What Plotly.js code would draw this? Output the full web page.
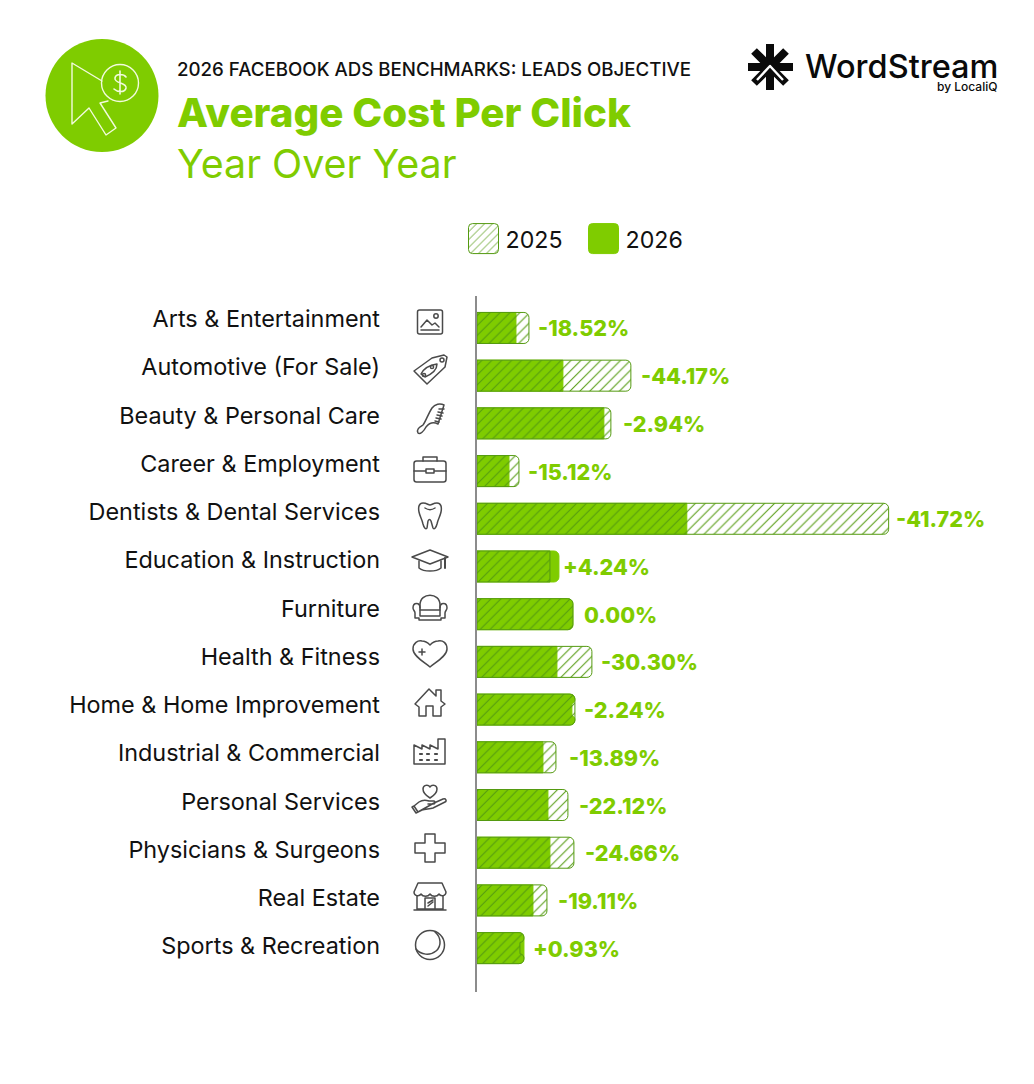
<!DOCTYPE html>
<html><head><meta charset="utf-8">
<script src="https://cdn.plot.ly/plotly-3.0.1.min.js"></script>
<style>html,body{margin:0;padding:0;background:#fff}#wrap{position:relative;width:1034px;height:1084px}#chart,#deco{position:absolute;left:0;top:0}#deco{pointer-events:none}</style>
</head><body><div id="wrap"><div id="chart"></div>
<svg id="deco" width="1034" height="1084" viewBox="0 0 1034 1084" fill="none" stroke="#4a4a4a" stroke-width="1.5" stroke-linejoin="round" stroke-linecap="round">
<ellipse cx="102" cy="95.5" rx="56.5" ry="56.5" fill="#7fcc00" stroke="none"/>
<g stroke="#f2fbdc" stroke-width="1.4"><path d="M102 81L72 63V124L89 108L106 135L116 128L100 103L108 101"/><circle cx="120" cy="83" r="18.5"/><path d="M126 77c-2-3-10-4-11 1c-1 6 12 4 11 10c-1 5-9 4-12 1M120 71V94" stroke-width="1.6"/></g>
<g transform="translate(430,322)"><rect x="-12.5" y="-12" width="25" height="24" rx="2"/><path d="M-9 5L-3 -2L2 3L5 1L9 5M-9 8H9"/><circle cx="6" cy="-6" r="2.2"/></g>
<g transform="translate(430,369)"><path d="M-16 2L2 -11L14 -14L17 -12L15 -2L-3 15Z" /><circle cx="12" cy="-9" r="2"/><path d="M-9 5C-6 -1 0 -4 7 -5C7 0 2 5 -5 8Z"/><circle cx="-6" cy="6" r="1.6"/><circle cx="2" cy="-2" r="1.6"/></g>
<g transform="translate(430,418)"><path d="M-12 15C-14 11 -10 9 -7 7C-4 3 -2 -4 2 -10C5 -14 10 -15 14 -13L8 6C4 4 0 4 -4 9C-6 13 -10 17 -12 15Z"/><path d="M9 -9L14 -9M8 -6L13 -5M7 -3L12 -2M6 0L11 1M5 3L9 4"/></g>
<g transform="translate(430,470)"><rect x="-16" y="-9" width="32" height="21" rx="2.5"/><path d="M-7 -9V-13H7V-9M-16 1H-4M4 1H16M-4 -1H4V3H-4Z"/></g>
<g transform="translate(430,516)"><path d="M-7 -13C-3 -13 -2 -11 0 -11C2 -11 3 -13 7 -13C11 -13 12 -9 11 -4C10 1 8 3 7 8C6 12 4 14 3 12L1 5C0 3 -1 3 -2 5L-3 12C-4 14 -6 12 -7 8C-8 3 -10 1 -11 -4C-12 -9 -11 -13 -7 -13Z"/><path d="M-5 -8C-2 -6 2 -6 5 -8"/></g>
<g transform="translate(430,561)"><path d="M-18 -4L0 -11L18 -4L0 3Z"/><path d="M-11 0V7C-6 11 6 11 11 7V0"/><path d="M15 -3V7" stroke-width="2"/></g>
<g transform="translate(430,607)"><path d="M-10 -2C-10 -15 10 -15 10 -2V3H-10Z"/><path d="M-10 1C-10 -5 -17 -5 -17 1C-17 3 -15 4 -15 6V11H-11V13H11V11H15V6C15 4 17 3 17 1C17 -5 10 -5 10 1M-10 3V9H10V3"/></g>
<g transform="translate(430,654)"><path d="M0 13C-6 8 -17 2 -17 -5C-17 -11 -12 -14 -8 -13C-4 -13 -2 -11 0 -9C2 -11 4 -13 8 -13C13 -14 17 -11 17 -5C17 2 6 8 0 13Z"/><path d="M-8 -5V1M-11 -2H-5"/></g>
<g transform="translate(430,703)"><path d="M-15 1L-1 -14L6 -7V-13H11V-2L15 1L11 4V13H3V3H-4V13H-11V4Z"/></g>
<g transform="translate(430,751)"><path d="M-16 13V-6L-8 -2V-6L0 -2V-6L8 -2V-12H15V13Z"/><path d="M-10 3h2M-3 3h2M5 3h2M-10 9h2M-3 9h2M5 9h2" stroke-width="2.2"/></g>
<g transform="translate(430,799)"><path d="M0 -1C-5 -4 -7 -7 -7 -10C-7 -14 -2 -15 0 -12C2 -15 7 -14 7 -10C7 -7 5 -4 0 -1Z"/><path d="M-16 7L-11 3C-8 1 -4 1 -1 2H4C6 3 5 5 3 5H-2M4 4L13 0C16 -1 17 2 15 3L3 9C0 10 -4 10 -8 11L-12 13ZM-16 7L-12 13L-14 14L-18 8Z"/></g>
<g transform="translate(430,848)"><path d="M-5 -14H5V-5H15V5H5V14H-5V5H-15V-5H-5Z"/></g>
<g transform="translate(430,897)"><path d="M-12 -14H12L16 -5C16 -1 11 0 9 -3C7 0 2 0 0 -3C-2 0 -7 0 -9 -3C-11 0 -16 -1 -16 -5Z"/><path d="M-13 -1V12H13V-1M-5 12V1H5V12M-16 13H16M-2 9L3 5M-2 6L3 3"/></g>
<g transform="translate(430,945)"><circle cx="0" cy="0" r="14.5"/><path d="M-14 4C-9 10 0 11 6 6C12 1 11 -8 5 -13"/></g>
<g stroke="#0a0a0a" stroke-width="8" stroke-linecap="butt"><path d="M770 44V90M748 67H793M754 51L786 83M754 83L786 51"/></g>
<path d="M757 80L770 66L783 80" stroke="#fff" stroke-width="2.4" stroke-linecap="butt"/>
</svg></div>
<script>
const categories = ["Arts & Entertainment","Automotive (For Sale)","Beauty & Personal Care","Career & Employment","Dentists & Dental Services","Education & Instruction","Furniture","Health & Fitness","Home & Home Improvement","Industrial & Commercial","Personal Services","Physicians & Surgeons","Real Estate","Sports & Recreation"];
const values2025 = [52,154,134,42,412,73,96,115,98,79,91,97,70,43];
const values2026 = [39,86,127,32,210,82,96,80,95,66,71,73,56,47];
const changeLabels = ["-18.52%","-44.17%","-2.94%","-15.12%","-41.72%","+4.24%","0.00%","-30.30%","-2.24%","-13.89%","-22.12%","-24.66%","-19.11%","+0.93%"];
const labelGaps = [7,8,10,7,5,2,9,7,7,11,9,9,9,7];

const GREEN="#7fcc00", HATCH="#549a10", FONT="Inter, sans-serif";
const L=476.5,R=1034,T=296,B=992;
const px=x=>(x-L)/(R-L), py=y=>(B-y)/(B-T);
const note=(text,x,y,size,color,weight,anchor)=>({text,xref:'paper',yref:'paper',x:px(x),y:py(y),xanchor:anchor||'left',yanchor:'middle',showarrow:false,font:{family:FONT,size,color,weight:weight||400}});
const annotations=[
 note("2026 FACEBOOK ADS BENCHMARKS: LEADS OBJECTIVE",174,69,18.7,"#111",500),
 note("Average Cost Per Click",174,113,40.3,GREEN,800),
 note("Year Over Year",174,164,39.4,GREEN,400),
 note("WordStream",803,66,32.5,"#0a0a0a",500),
 note("by LocaliQ",935,87,12,"#0a0a0a",500),
];
categories.forEach((c,i)=>annotations.push({text:changeLabels[i],x:Math.max(values2025[i],values2026[i]),y:c,xref:'x',yref:'y',xanchor:'left',yanchor:'middle',xshift:labelGaps[i],yshift:-0.5,showarrow:false,font:{family:FONT,size:21.6,color:GREEN,weight:800}}));

const traces=[
 {type:'bar',orientation:'h',name:'2026',y:categories,x:values2026,width:0.65,marker:{color:GREEN,cornerradius:5,line:{color:GREEN,width:1}},hoverinfo:'x+y'},
 {type:'bar',orientation:'h',name:'2025',y:categories,x:values2025,width:0.65,marker:{color:'rgba(0,0,0,0)',cornerradius:5,line:{color:HATCH,width:1},pattern:{shape:'/',size:7,solidity:0.15,fgcolor:HATCH,bgcolor:'rgba(0,0,0,0)',fillmode:'replace'}},hoverinfo:'x+y'},
 {type:'scatter',mode:'none',x:categories.map(()=>0),y:categories,yaxis:'y2',showlegend:false,hoverinfo:'skip'}
];
const layout={width:1034,height:1084,margin:{l:L,r:0,t:T,b:1084-B,pad:0},paper_bgcolor:'#fff',plot_bgcolor:'#fff',barmode:'overlay',
 font:{family:FONT,color:'#111'},
 xaxis:{range:[0,R-L],visible:false,fixedrange:true},
 yaxis:{type:'category',categoryorder:'array',categoryarray:categories,range:[13.92,-0.67],showline:true,linecolor:'#8c8c8c',linewidth:1.5,showgrid:false,zeroline:false,ticks:'',showticklabels:false,fixedrange:true,automargin:false},
 yaxis2:{type:'category',overlaying:'y',side:'left',anchor:'x',categoryorder:'array',categoryarray:categories,range:[13.954,-0.477],showline:false,showgrid:false,zeroline:false,ticks:'',ticklabelstandoff:96,tickfont:{family:FONT,size:23.4,color:'#111'},fixedrange:true,automargin:false},
 legend:{orientation:'h',traceorder:'reversed',x:px(465),xanchor:'left',y:py(239),yanchor:'middle',font:{family:FONT,size:23.2,color:'#111'},itemwidth:30,entrywidth:75,entrywidthmode:'pixels',bgcolor:'rgba(0,0,0,0)',itemclick:false,itemdoubleclick:false},
 annotations,showlegend:true};
Plotly.newPlot('chart',traces,layout,{displayModeBar:false,responsive:false}).then(()=>{
 document.querySelectorAll('#chart .legend .legendpoints path').forEach(p=>{
  p.setAttribute('d','M-13,-15H9A4,4 0 0 1 13,-11V11A4,4 0 0 1 9,15H-13A4,4 0 0 1 -17,11V-11A4,4 0 0 1 -13,-15Z');
 });
});
</script></body></html>
